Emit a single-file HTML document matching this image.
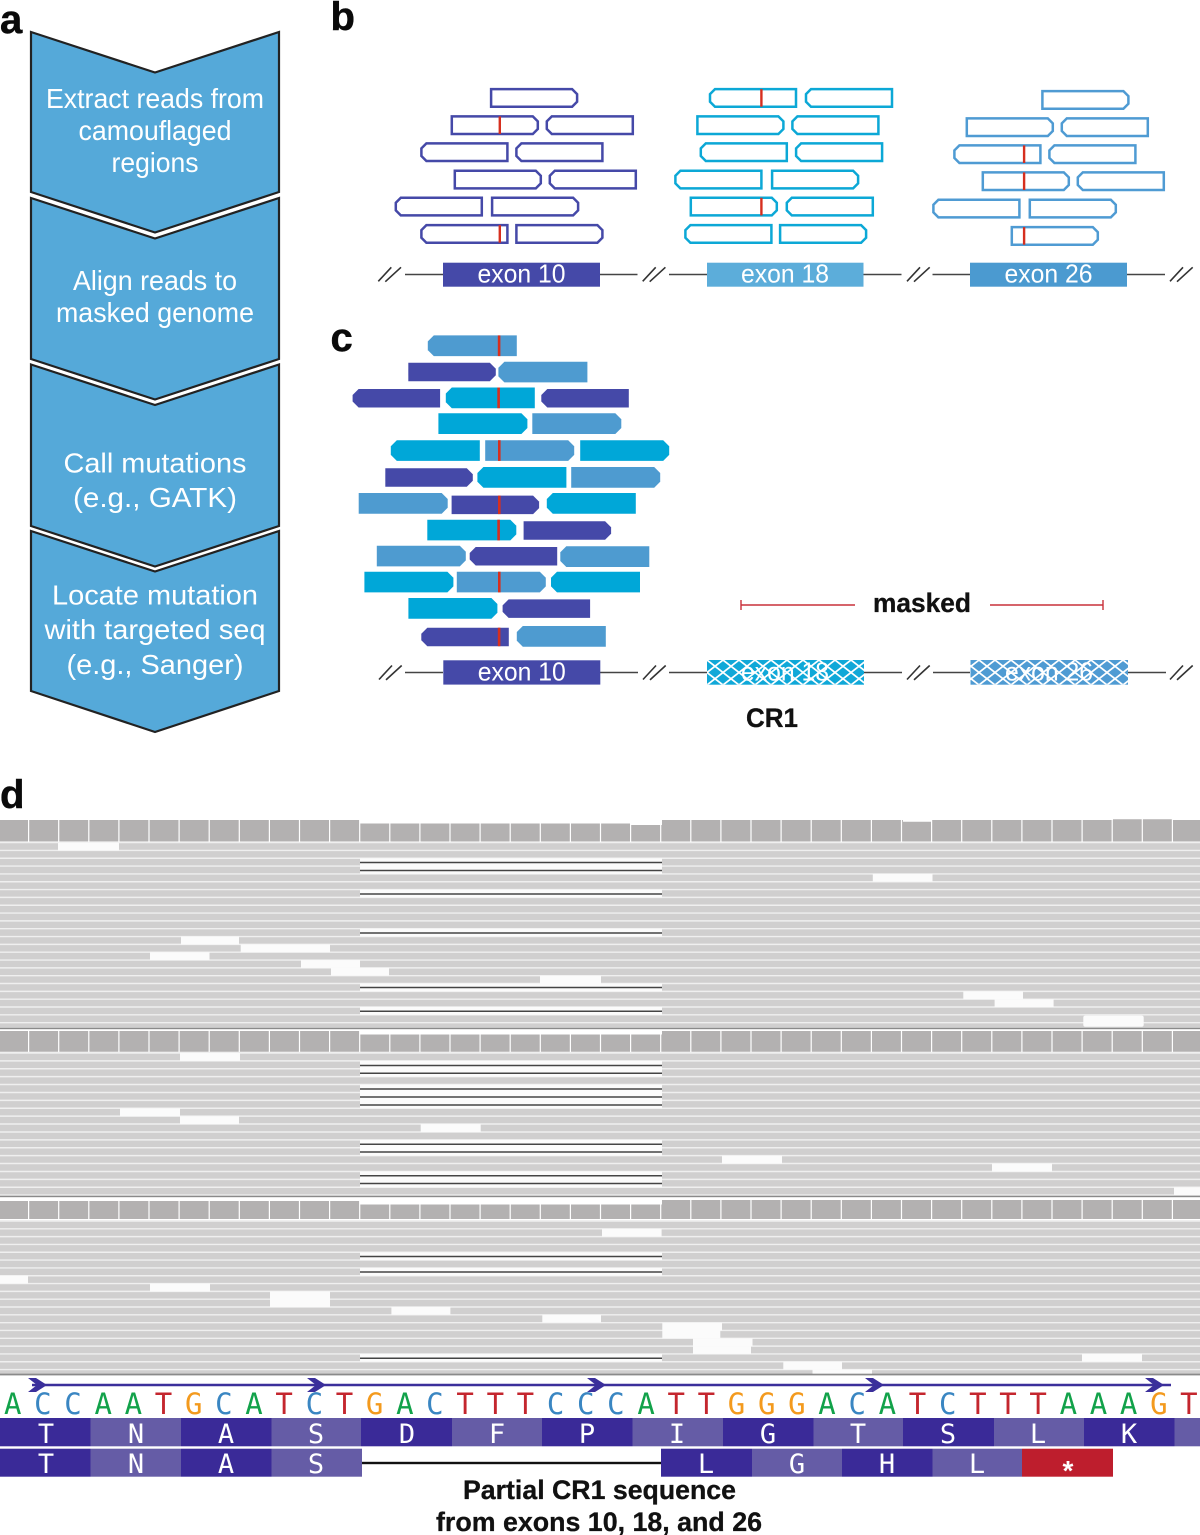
<!DOCTYPE html>
<html><head><meta charset="utf-8"><title>CR1 diagram</title>
<style>
html,body{margin:0;padding:0;background:#fff}
svg{display:block}
text{font-family:"Liberation Sans",sans-serif}
.w{fill:#fff}
.l{font-size:40px;font-weight:bold;fill:#0a0a0a;stroke:#0a0a0a;stroke-width:.5px}
.f{font-size:27.5px;fill:#fff;text-anchor:middle}
.e{font-size:26px;fill:#fff;text-anchor:middle}
.k{font-size:27px;font-weight:bold;fill:#111;stroke:#111;stroke-width:.3px}
.m{font-family:"DejaVu Sans Mono","Liberation Mono",monospace}
.a{fill:#12a24a}.c{fill:#3a86c2}.t{fill:#c4262e}.g{fill:#f39a1e}
.o1{fill:#fff;stroke:#4549a8;stroke-width:2.5}
.o2{fill:#fff;stroke:#0ca8d6;stroke-width:2.5}
.o3{fill:#fff;stroke:#4f9bd3;stroke-width:2.5}
.rd{fill:#d62f1f}
.gl{stroke:#444;stroke-width:1.6;fill:none}
.rw{stroke:#d0cfcf;stroke-width:1200;stroke-dasharray:6.4 1.43}
.cv{stroke:#fff;stroke-width:1.2;stroke-dasharray:1.2 28.9}
.bl{stroke:#444;stroke-width:1.5}
</style></head>
<body>
<svg xmlns="http://www.w3.org/2000/svg" width="1200" height="1535" viewBox="0 0 1200 1535">
<defs>
<path id="bR" d="M0 0H81L86 5V12.6L81 17.6H0Z"/>
<path id="bL" d="M5 0H86V17.6H5L0 12.6V5Z"/>
<path id="cR" d="M0 0H83L89 6V14.7L83 20.7H0Z"/>
<path id="cL" d="M6 0H89V20.7H6L0 14.7V6Z"/>
<path id="dR" d="M0 0H81.5L87.5 6V12.5L81.5 18.5H0Z"/>
<path id="dL" d="M6 0H87.5V18.5H6L0 12.5V6Z"/>
<path id="sl" d="M0 14L13 0M7 14.4L22.7 0" fill="none" stroke="#333" stroke-width="1.6"/>
<path id="ah" d="M-18 -7H-10L1 0L-10 7H-18L-9 0Z" fill="#3b2f9b"/>
<pattern id="hx" patternUnits="userSpaceOnUse" x="707" y="660" width="16" height="12.5">
<path d="M0 0L16 12.5M16 0L0 12.5" stroke="#fff" stroke-width="1.7" fill="none"/>
</pattern>
</defs>

<!-- labels -->
<text class="l" x="0" y="33">a</text>
<text class="l" x="330.5" y="30">b</text>
<text class="l" x="330.5" y="351">c</text>
<text class="l" x="0" y="808">d</text>

<!-- panel a -->
<g fill="#55a9d9" stroke="#222" stroke-width="2.2" stroke-linejoin="miter">
<polygon points="31,32 155,72.5 279,32 279,192 155,232.5 31,192"/>
<polygon points="31,198 155,238.5 279,198 279,359 155,399.5 31,359"/>
<polygon points="31,364.5 155,405 279,364.5 279,526 155,566.5 31,526"/>
<polygon points="31,531 155,571.5 279,531 279,691 155,732 31,691"/>
</g>
<text class="f" x="155" y="108" textLength="218" lengthAdjust="spacingAndGlyphs">Extract reads from</text>
<text class="f" x="155" y="140" textLength="153" lengthAdjust="spacingAndGlyphs">camouflaged</text>
<text class="f" x="155" y="172" textLength="87" lengthAdjust="spacingAndGlyphs">regions</text>
<text class="f" x="155" y="290" textLength="164" lengthAdjust="spacingAndGlyphs">Align reads to</text>
<text class="f" x="155" y="322" textLength="198" lengthAdjust="spacingAndGlyphs">masked genome</text>
<text class="f" x="155" y="472.5" textLength="183" lengthAdjust="spacingAndGlyphs">Call mutations</text>
<text class="f" x="155" y="507" textLength="164" lengthAdjust="spacingAndGlyphs">(e.g., GATK)</text>
<text class="f" x="155" y="604.5" textLength="206" lengthAdjust="spacingAndGlyphs">Locate mutation</text>
<text class="f" x="155" y="639" textLength="221" lengthAdjust="spacingAndGlyphs">with targeted seq</text>
<text class="f" x="155" y="674" textLength="177" lengthAdjust="spacingAndGlyphs">(e.g., Sanger)</text>

<!-- panel b exon 10 -->
<g class="o1">
<use href="#bR" x="491.1" y="89.1"/>
<use href="#bR" x="451.8" y="116.4"/><use href="#bL" x="546.8" y="116.4"/>
<use href="#bL" x="421.4" y="143.4"/><use href="#bL" x="516.4" y="143.4"/>
<use href="#bR" x="454.8" y="170.8"/><use href="#bL" x="549.8" y="170.8"/>
<use href="#bL" x="395.8" y="197.8"/><use href="#bR" x="492.1" y="197.8"/>
<use href="#bL" x="421.4" y="225.1"/><use href="#bR" x="516.4" y="225.1"/>
</g>
<rect class="rd" x="498.6" y="116.4" width="2.4" height="17.6"/>
<rect class="rd" x="498.6" y="225.1" width="2.4" height="17.6"/>
<!-- exon 18 -->
<g class="o2">
<use href="#bL" x="710" y="89.1"/><use href="#bL" x="806" y="89.1"/>
<use href="#bR" x="697.4" y="116.4"/><use href="#bL" x="792.4" y="116.4"/>
<use href="#bL" x="700.8" y="143.4"/><use href="#bL" x="796.1" y="143.4"/>
<use href="#bL" x="675.4" y="170.8"/><use href="#bR" x="772.1" y="170.8"/>
<use href="#bR" x="690.8" y="197.8"/><use href="#bL" x="786.8" y="197.8"/>
<use href="#bL" x="685.4" y="225.1"/><use href="#bR" x="780.1" y="225.1"/>
</g>
<rect class="rd" x="760.2" y="89.1" width="2.4" height="17.6"/>
<rect class="rd" x="760.2" y="197.8" width="2.4" height="17.6"/>
<!-- exon 26 -->
<g class="o3">
<use href="#bR" x="1042.4" y="91.1"/>
<use href="#bR" x="966.8" y="118.4"/><use href="#bL" x="1061.8" y="118.4"/>
<use href="#bL" x="954.4" y="145.4"/><use href="#bL" x="1049.4" y="145.4"/>
<use href="#bR" x="982.8" y="172.4"/><use href="#bL" x="1077.8" y="172.4"/>
<use href="#bL" x="933.4" y="199.8"/><use href="#bR" x="1029.8" y="199.8"/>
<use href="#bR" x="1011.8" y="227.1"/>
</g>
<rect class="rd" x="1022.9" y="145.4" width="2.4" height="17.6"/>
<rect class="rd" x="1022.9" y="172.4" width="2.4" height="17.6"/>
<rect class="rd" x="1022.9" y="227.1" width="2.4" height="17.6"/>

<!-- gene b -->
<path class="gl" d="M405 274.5H443M600 274.5H637.5M669 274.5H707M863 274.5H901.5M932.5 274.5H970M1127 274.5H1165"/>
<use href="#sl" x="378.3" y="267.3"/><use href="#sl" x="642.7" y="267.3"/><use href="#sl" x="907" y="267.3"/><use href="#sl" x="1170" y="267.3"/>
<rect x="443" y="262.7" width="157" height="24" fill="#4549a8"/>
<rect x="707" y="262.7" width="156.5" height="24" fill="#5cadda"/>
<rect x="970" y="262.7" width="157" height="24" fill="#4b9ad0"/>
<text class="e" x="521.5" y="282.5" textLength="88" lengthAdjust="spacingAndGlyphs">exon 10</text>
<text class="e" x="785" y="282.5" textLength="88" lengthAdjust="spacingAndGlyphs">exon 18</text>
<text class="e" x="1048.5" y="282.5" textLength="88" lengthAdjust="spacingAndGlyphs">exon 26</text>

<!-- panel c reads -->
<g fill="#4e9bd0">
<use href="#cL" x="427.8" y="335.4"/><use href="#cL" x="498.4" y="361.7"/>
<use href="#cR" x="532.3" y="413.3"/><use href="#cR" x="485.2" y="440.2"/>
<use href="#cR" x="571.2" y="467"/><use href="#cR" x="358.7" y="493"/>
<use href="#cR" x="376.8" y="545.7"/><use href="#cL" x="560.3" y="546.3"/>
<use href="#cR" x="456.8" y="571.7"/><use href="#cL" x="516.8" y="626"/>
</g>
<g fill="#00a7d8">
<use href="#cL" x="445.8" y="387.5"/><use href="#cR" x="438.4" y="413.3"/>
<use href="#cL" x="390.8" y="440.2"/><use href="#cR" x="580.2" y="440.2"/>
<use href="#cL" x="477.4" y="467"/><use href="#cL" x="546.8" y="493"/>
<use href="#cR" x="427.3" y="519.7"/><use href="#cR" x="364.4" y="571.7"/>
<use href="#cL" x="551" y="571.7"/><use href="#cR" x="408.4" y="598"/>
</g>
<g fill="#4549a8">
<use href="#dR" x="408.3" y="362.7"/><use href="#dL" x="352.6" y="389"/>
<use href="#dL" x="541.3" y="389"/><use href="#dR" x="385.3" y="468.3"/>
<use href="#dR" x="451.6" y="495.6"/><use href="#dR" x="523.6" y="521.3"/>
<use href="#dL" x="469.7" y="547"/><use href="#dL" x="502.6" y="599.4"/>
<use href="#dL" x="421.3" y="627.7"/>
</g>
<g class="rd">
<rect x="497.8" y="335.4" width="2.6" height="20.7"/>
<rect x="497.3" y="387.5" width="2.6" height="20.7"/>
<rect x="498" y="440.2" width="2.6" height="20.7"/>
<rect x="498" y="495.6" width="2.6" height="18.5"/>
<rect x="497.3" y="519.7" width="2.6" height="20.7"/>
<rect x="498" y="571.7" width="2.6" height="20.7"/>
<rect x="497.8" y="627.7" width="2.6" height="18.5"/>
</g>

<!-- gene c -->
<path class="gl" d="M405 672.5H443M600 672.5H638M669 672.5H707M864 672.5H902M933 672.5H970M1128 672.5H1166"/>
<use href="#sl" x="379" y="665.5"/><use href="#sl" x="643" y="665.5"/><use href="#sl" x="907" y="665.5"/><use href="#sl" x="1170" y="665.5"/>
<rect x="443.3" y="660.3" width="157" height="24.3" fill="#4549a8"/>
<rect x="707" y="660" width="157" height="24.7" fill="#10a8d8"/>
<rect x="707" y="660" width="157" height="24.7" fill="url(#hx)"/>
<rect x="970.5" y="660" width="157.5" height="24.7" fill="#4f9bd3"/>
<rect x="970.5" y="660" width="157.5" height="24.7" fill="url(#hx)"/>
<text class="e" x="521.8" y="680.5" textLength="88" lengthAdjust="spacingAndGlyphs">exon 10</text>
<text class="e" x="785" y="680.5" textLength="88" lengthAdjust="spacingAndGlyphs">exon 18</text>
<text class="e" x="1049" y="680.5" textLength="88" lengthAdjust="spacingAndGlyphs">exon 26</text>
<path d="M741 605H855M990 605H1103M741 600V610M1103 600V610" stroke="#c9303a" stroke-width="1.4" fill="none"/>
<text class="k" x="873" y="612" textLength="98" lengthAdjust="spacingAndGlyphs">masked</text>
<text class="k" x="746" y="727" textLength="52" lengthAdjust="spacingAndGlyphs">CR1</text>

<!-- panel d track 1 -->
<rect x="0" y="842" width="1200" height="186" fill="#efefef"/>
<line class="rw" x1="600" x2="600" y1="843.3" y2="1027"/>
<path d="M0 820H360V823.5H631V825H662V820H903V821.7H932V820H1113V819.2H1172V820H1200V841.5H0Z" fill="#b3b1b1"/>
<line class="cv" x1="28" x2="1200" y1="830.5" y2="830.5" style="stroke-width:23"/>
<rect x="0" y="1027.6" width="1200" height="1.6" fill="#8a8a8a"/>
<g fill="#fbfbfb">
<rect x="58" y="842.6" width="61" height="7.8"/>
<rect x="872.8" y="873.9" width="59.7" height="7.8"/>
<rect x="181" y="936.6" width="58" height="7.8"/>
<rect x="240.7" y="944.4" width="89.3" height="7.8"/>
<rect x="150" y="952.2" width="59.5" height="7.8"/>
<rect x="301" y="960.1" width="59" height="7.8"/>
<rect x="331" y="967.9" width="58" height="7.8"/>
<rect x="540" y="975.7" width="61" height="7.8"/>
<rect x="963.3" y="991.4" width="59.7" height="7.8"/>
<rect x="994.6" y="999.2" width="59" height="7.8"/>
<rect x="1083.3" y="1015.6" width="60.4" height="11.2" rx="2"/>
<rect x="360" y="858.3" width="302" height="15.6"/>
<rect x="360" y="889.6" width="302" height="7.8"/>
<rect x="360" y="928.7" width="302" height="7.8"/>
<rect x="360" y="983.5" width="302" height="7.8"/>
<rect x="360" y="1007" width="302" height="7.8"/>
</g>
<g class="bl">
<line x1="360" x2="662" y1="862.5" y2="862.5"/>
<line x1="360" x2="662" y1="870.5" y2="870.5"/>
<line x1="360" x2="662" y1="894" y2="894"/>
<line x1="360" x2="662" y1="933" y2="933"/>
<line x1="360" x2="662" y1="987.5" y2="987.5"/>
<line x1="360" x2="662" y1="1011.3" y2="1011.3"/>
</g>

<!-- track 2 -->
<rect x="0" y="1052" width="1200" height="143" fill="#efefef"/>
<line x1="600" x2="600" y1="1053.7" y2="1194.5" style="stroke:#d0cfcf;stroke-width:1200;stroke-dasharray:6.4 1.5"/>
<path d="M0 1031H360V1034.5H662V1031H1200V1051.7H0Z" fill="#b3b1b1"/>
<line class="cv" x1="28" x2="1200" y1="1041.5" y2="1041.5" style="stroke-width:21"/>
<rect x="0" y="1195.6" width="1200" height="1.6" fill="#8a8a8a"/>
<g fill="#fbfbfb">
<rect x="180" y="1053" width="60" height="7.9"/>
<rect x="120" y="1108.3" width="60" height="7.9"/>
<rect x="180" y="1116.2" width="59" height="7.9"/>
<rect x="420.7" y="1124.1" width="60" height="7.9"/>
<rect x="722" y="1155.7" width="60" height="7.9"/>
<rect x="992" y="1163.6" width="60" height="7.9"/>
<rect x="1174" y="1187.3" width="26" height="7.9"/>
<rect x="360" y="1060.9" width="302" height="15.8"/>
<rect x="360" y="1084.6" width="302" height="23.7"/>
<rect x="360" y="1139.9" width="302" height="15.8"/>
<rect x="360" y="1171.5" width="302" height="15.8"/>
</g>
<g class="bl">
<line x1="360" x2="662" y1="1065.5" y2="1065.5"/>
<line x1="360" x2="662" y1="1073.3" y2="1073.3"/>
<line x1="360" x2="662" y1="1089" y2="1089"/>
<line x1="360" x2="662" y1="1097" y2="1097"/>
<line x1="360" x2="662" y1="1105" y2="1105"/>
<line x1="360" x2="662" y1="1144.3" y2="1144.3"/>
<line x1="360" x2="662" y1="1152" y2="1152"/>
<line x1="360" x2="662" y1="1175.7" y2="1175.7"/>
<line x1="360" x2="662" y1="1183.5" y2="1183.5"/>
</g>

<!-- track 3 -->
<rect x="0" y="1220" width="1200" height="154" fill="#efefef"/>
<line class="rw" x1="600" x2="600" y1="1221.7" y2="1373.5" style="stroke-dasharray:6.4 1.42"/>
<path d="M0 1201H360V1204.5H662V1200H1200V1219H0Z" fill="#b3b1b1"/>
<line class="cv" x1="28" x2="1200" y1="1210" y2="1210" style="stroke-width:20"/>
<rect x="0" y="1373.6" width="1200" height="1.8" fill="#8a8a8a"/>
<g fill="#fbfbfb">
<rect x="602" y="1228.8" width="59.6" height="7.8"/>
<rect x="0" y="1275.7" width="28" height="7.8"/>
<rect x="150" y="1283.6" width="60" height="7.8"/>
<rect x="270" y="1291.4" width="60" height="15.6"/>
<rect x="391.4" y="1307" width="59" height="7.8"/>
<rect x="542.3" y="1314.8" width="58.7" height="7.8"/>
<rect x="662.3" y="1322.7" width="59.7" height="7.8"/>
<rect x="662.3" y="1330.5" width="58" height="7.8"/>
<rect x="693" y="1338.3" width="59.5" height="7.8"/>
<rect x="693" y="1346.1" width="58" height="7.8"/>
<rect x="1082" y="1353.9" width="60" height="7.8"/>
<rect x="783.3" y="1361.8" width="58.7" height="7.8"/>
<rect x="812.5" y="1369.6" width="59.5" height="4"/>
<rect x="360" y="1252.3" width="302" height="7.8"/>
<rect x="360" y="1267.9" width="302" height="7.8"/>
<rect x="360" y="1353.9" width="302" height="7.8"/>
</g>
<g class="bl">
<line x1="360" x2="662" y1="1256.5" y2="1256.5"/>
<line x1="360" x2="662" y1="1272" y2="1272"/>
<line x1="360" x2="662" y1="1358.2" y2="1358.2"/>
</g>

<!-- arrow -->
<line x1="32" x2="1171" y1="1385" y2="1385" stroke="#3b2f9b" stroke-width="2.6"/>
<use href="#ah" x="46" y="1385"/><use href="#ah" x="325" y="1385"/><use href="#ah" x="605" y="1385"/><use href="#ah" x="883" y="1385"/><use href="#ah" x="1163" y="1385"/>

<!-- nucleotides -->
<text class="m" y="1414" font-size="29" text-anchor="middle" x="12.7 42.9 73 103.2 133.3 163.5 193.7 223.8 254 284.1 314.3 344.5 374.6 404.8 434.9 465.1 495.3 525.4 555.6 585.7 615.9 646.1 676.2 706.4 736.5 766.7 796.9 827 857.2 887.3 917.5 947.7 977.8 1008 1038.1 1068.3 1098.5 1128.6 1158.8 1188.9"><tspan class="a">A</tspan><tspan class="c">C</tspan><tspan class="c">C</tspan><tspan class="a">A</tspan><tspan class="a">A</tspan><tspan class="t">T</tspan><tspan class="g">G</tspan><tspan class="c">C</tspan><tspan class="a">A</tspan><tspan class="t">T</tspan><tspan class="c">C</tspan><tspan class="t">T</tspan><tspan class="g">G</tspan><tspan class="a">A</tspan><tspan class="c">C</tspan><tspan class="t">T</tspan><tspan class="t">T</tspan><tspan class="t">T</tspan><tspan class="c">C</tspan><tspan class="c">C</tspan><tspan class="c">C</tspan><tspan class="a">A</tspan><tspan class="t">T</tspan><tspan class="t">T</tspan><tspan class="g">G</tspan><tspan class="g">G</tspan><tspan class="g">G</tspan><tspan class="a">A</tspan><tspan class="c">C</tspan><tspan class="a">A</tspan><tspan class="t">T</tspan><tspan class="c">C</tspan><tspan class="t">T</tspan><tspan class="t">T</tspan><tspan class="t">T</tspan><tspan class="a">A</tspan><tspan class="a">A</tspan><tspan class="a">A</tspan><tspan class="g">G</tspan><tspan class="t">T</tspan></text>

<!-- amino acid rows -->
<g fill="#3a2a98">
<rect x="0" y="1418" width="90.5" height="28.3"/><rect x="181" y="1418" width="90.5" height="28.3"/><rect x="361" y="1418" width="91" height="28.3"/><rect x="542" y="1418" width="90.5" height="28.3"/><rect x="723" y="1418" width="90.5" height="28.3"/><rect x="903" y="1418" width="91" height="28.3"/><rect x="1084" y="1418" width="90.5" height="28.3"/>
<rect x="0" y="1448.7" width="90.5" height="28"/><rect x="181" y="1448.7" width="90.5" height="28"/><rect x="661" y="1448.7" width="91" height="28"/><rect x="842" y="1448.7" width="90.5" height="28"/>
</g>
<g fill="#655ca6">
<rect x="90.5" y="1418" width="90.5" height="28.3"/><rect x="271.5" y="1418" width="89.5" height="28.3"/><rect x="452" y="1418" width="90" height="28.3"/><rect x="632.5" y="1418" width="90.5" height="28.3"/><rect x="813.5" y="1418" width="89.5" height="28.3"/><rect x="994" y="1418" width="90" height="28.3"/><rect x="1174.5" y="1418" width="25.5" height="28.3"/>
<rect x="90.5" y="1448.7" width="90.5" height="28"/><rect x="271.5" y="1448.7" width="90.5" height="28"/><rect x="752" y="1448.7" width="90" height="28"/><rect x="932.5" y="1448.7" width="89.5" height="28"/>
</g>
<rect x="1022" y="1448.7" width="91" height="28" fill="#be1e2d"/>
<rect x="362" y="1461.8" width="299" height="2.4" fill="#111"/>
<g class="w m" font-size="27" text-anchor="middle">
<text class="m" y="1443" x="46 136 226 316 407 497 587 677 768 858 948 1038 1129">TNASDFPIGTSLK</text>
<text class="m" y="1473" x="46 136 226 316 706 797 887 977">TNASLGHL</text>
</g>
<text x="1068" y="1480" font-size="28" font-weight="bold" class="w" text-anchor="middle">*</text>

<text class="k" x="463" y="1499" textLength="273" lengthAdjust="spacingAndGlyphs">Partial CR1 sequence</text>
<text class="k" x="436" y="1531" textLength="326" lengthAdjust="spacingAndGlyphs">from exons 10, 18, and 26</text>
</svg>
</body></html>
